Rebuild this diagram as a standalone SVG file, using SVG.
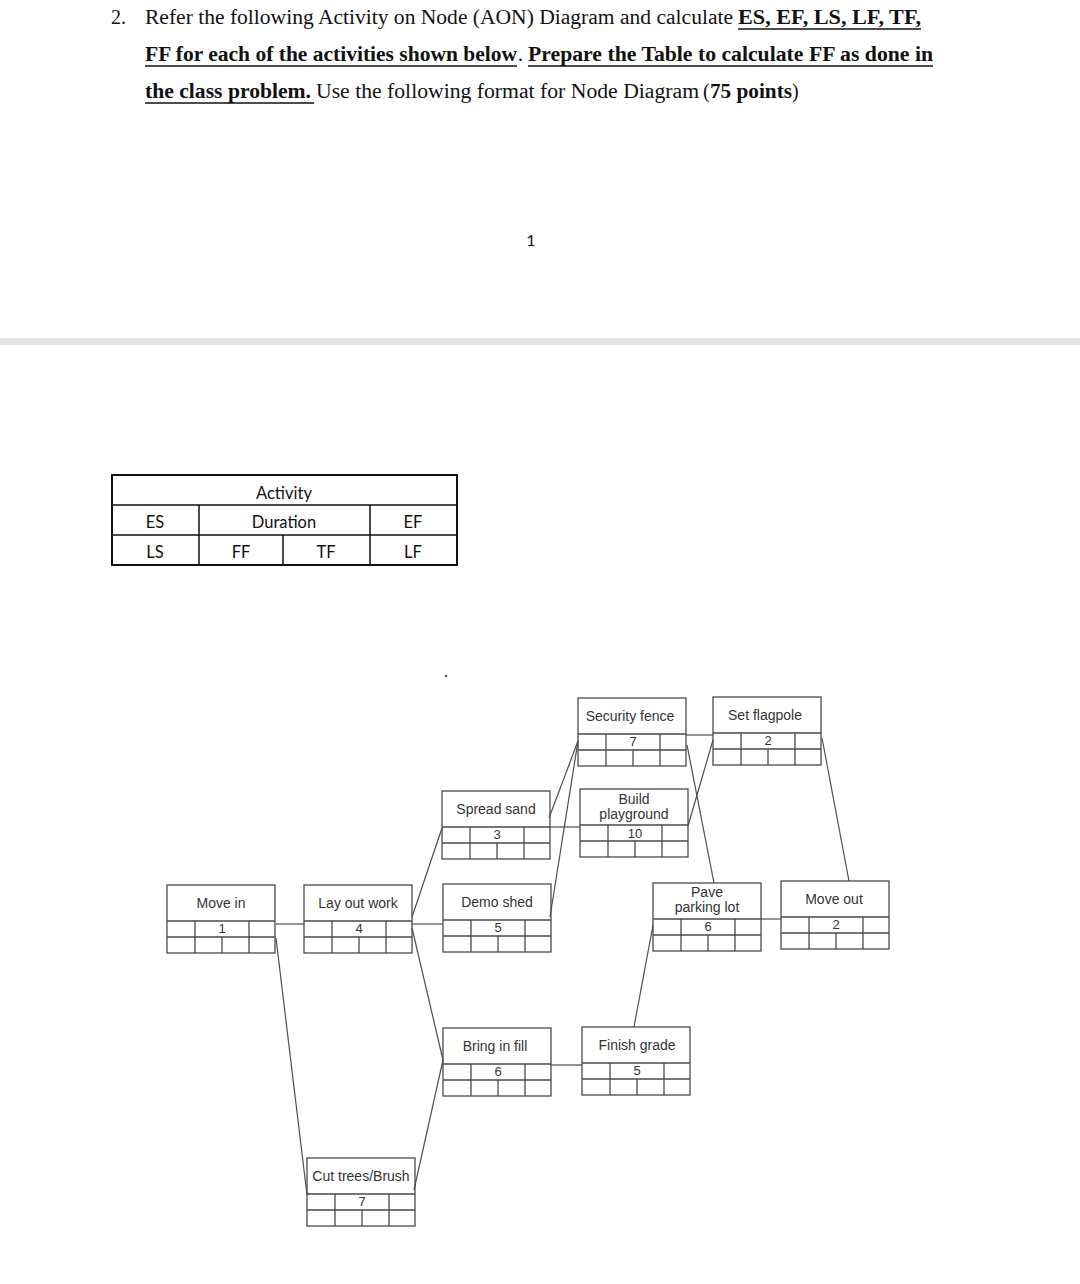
<svg xmlns="http://www.w3.org/2000/svg" xmlns:xlink="http://www.w3.org/1999/xlink" width="1080" height="1284" viewBox="0 0 1080 1284">
<style>
.hd{font-family:"Liberation Serif","Times New Roman",serif;font-size:20px;fill:#111}
.b{font-weight:bold}
.ul{stroke:#111;stroke-width:1.6}
.lg{font-family:Lato,"Open Sans",sans-serif;font-size:16.5px;fill:#111;text-anchor:middle}
.lgb{fill:none;stroke:#111;stroke-width:2}
.lgl{stroke:#111;stroke-width:1.5}
.nt{font-family:"Liberation Sans",Arial,sans-serif;font-size:14px;fill:#333;text-anchor:middle}
.nn{font-family:"Liberation Sans",Arial,sans-serif;font-size:13px;fill:#333;text-anchor:middle}
.fr{fill:none;stroke:#4a4a4a;stroke-width:1.3}
.cn{fill:none;stroke:#4e4e4e;stroke-width:1.2}
</style>
<defs>
<g id="frame">
<rect class="fr" x="0" y="0" width="108" height="68"/>
<path class="fr" d="M0,36H108M0,52H108M28,36V68M82,36V68M55,52V68"/>
</g>
</defs>
<rect x="0" y="0" width="1080" height="1284" fill="#ffffff"/>

<!-- header -->
<g id="header">
<text class="hd" x="111" y="24">2.</text>
<text class="hd" x="145" y="24" textLength="588" lengthAdjust="spacingAndGlyphs">Refer the following Activity on Node (AON) Diagram and calculate</text>
<text class="hd b" x="738" y="24" textLength="183" lengthAdjust="spacingAndGlyphs">ES, EF, LS, LF, TF,</text>
<line class="ul" x1="738" y1="29" x2="921" y2="29"/>
<text class="hd b" x="145" y="61" textLength="372" lengthAdjust="spacingAndGlyphs">FF for each of the activities shown below</text>
<line class="ul" x1="145" y1="66" x2="517" y2="66"/>
<text class="hd" x="518" y="61">.</text>
<text class="hd b" x="528" y="61" textLength="405" lengthAdjust="spacingAndGlyphs">Prepare the Table to calculate FF as done in</text>
<line class="ul" x1="528" y1="66" x2="933" y2="66"/>
<text class="hd b" x="145" y="98" textLength="166" lengthAdjust="spacingAndGlyphs">the class problem.</text>
<line class="ul" x1="145" y1="103" x2="314" y2="103"/>
<text class="hd" x="316" y="98" textLength="383" lengthAdjust="spacingAndGlyphs">Use the following format for Node Diagram</text>
<text class="hd" x="703" y="98">(</text>
<text class="hd b" x="710" y="98" textLength="82" lengthAdjust="spacingAndGlyphs">75 points</text>
<text class="hd" x="792" y="98">)</text>
<text x="531" y="246" font-family="Lato,'Open Sans',sans-serif" font-size="16" fill="#111" text-anchor="middle">1</text>
</g>

<rect x="0" y="338" width="1080" height="7" fill="#e3e3e3"/>

<!-- legend -->
<g id="legend">
<rect class="lgb" x="112" y="475" width="345" height="90"/>
<path class="lgl" d="M112,505H457M112,535H457M199,505V565M370,505V565M283,535V565"/>
<text class="lg" x="284" y="499">Activity</text>
<text class="lg" x="155" y="528">ES</text>
<text class="lg" x="284" y="528">Duration</text>
<text class="lg" x="413" y="528">EF</text>
<text class="lg" x="155" y="558">LS</text>
<text class="lg" x="241" y="558">FF</text>
<text class="lg" x="326" y="558">TF</text>
<text class="lg" x="413" y="558">LF</text>
</g>
<circle cx="446" cy="676" r="1.2" fill="#555"/>

<!-- connectors -->
<g id="connectors">
<path class="cn" d="M276,924L304,924"/>
<path class="cn" d="M276,938L307,1195"/>
<path class="cn" d="M412,917L442,828"/>
<path class="cn" d="M412,924L443,924"/>
<path class="cn" d="M412,928L443,1060"/>
<path class="cn" d="M414,1190L443,1060"/>
<path class="cn" d="M549,818L578,741"/>
<path class="cn" d="M549,827L580,827"/>
<path class="cn" d="M550,917L578,741"/>
<path class="cn" d="M686,735L713,735"/>
<path class="cn" d="M687,745L714,883"/>
<path class="cn" d="M688,826L713,740"/>
<path class="cn" d="M822,738L849,881"/>
<path class="cn" d="M761,919L781,919"/>
<path class="cn" d="M634,1027L653,925"/>
<path class="cn" d="M551,1065L582,1065"/>
</g>

<!-- nodes -->
<g id="move-in" transform="translate(167,885)">
<use xlink:href="#frame"/>
<text class="nt" x="54" y="23">Move in</text>
<text class="nn" x="55" y="48">1</text>
</g>
<g id="lay-out-work" transform="translate(304,885)">
<use xlink:href="#frame"/>
<text class="nt" x="54" y="23">Lay out work</text>
<text class="nn" x="55" y="48">4</text>
</g>
<g id="spread-sand" transform="translate(442,791)">
<use xlink:href="#frame"/>
<text class="nt" x="54" y="23">Spread sand</text>
<text class="nn" x="55" y="48">3</text>
</g>
<g id="demo-shed" transform="translate(443,884)">
<use xlink:href="#frame"/>
<text class="nt" x="54" y="23">Demo shed</text>
<text class="nn" x="55" y="48">5</text>
</g>
<g id="bring-in-fill" transform="translate(443,1028)">
<use xlink:href="#frame"/>
<text class="nt" x="52" y="23">Bring in fill</text>
<text class="nn" x="55" y="48">6</text>
</g>
<g id="cut-trees-brush" transform="translate(307,1158)">
<use xlink:href="#frame"/>
<text class="nt" x="54" y="23">Cut trees/Brush</text>
<text class="nn" x="55" y="48">7</text>
</g>
<g id="security-fence" transform="translate(578,698)">
<use xlink:href="#frame"/>
<text class="nt" x="52" y="23">Security fence</text>
<text class="nn" x="55" y="48">7</text>
</g>
<g id="build-playground" transform="translate(580,789)">
<use xlink:href="#frame"/>
<text class="nt" x="54" y="15">Build</text>
<text class="nt" x="54" y="30">playground</text>
<text class="nn" x="55" y="49">10</text>
</g>
<g id="pave-parking-lot" transform="translate(653,883)">
<use xlink:href="#frame"/>
<text class="nt" x="54" y="14">Pave</text>
<text class="nt" x="54" y="29">parking lot</text>
<text class="nn" x="55" y="48">6</text>
</g>
<g id="finish-grade" transform="translate(582,1027)">
<use xlink:href="#frame"/>
<text class="nt" x="55" y="23">Finish grade</text>
<text class="nn" x="55" y="48">5</text>
</g>
<g id="set-flagpole" transform="translate(713,697)">
<use xlink:href="#frame"/>
<text class="nt" x="52" y="23">Set flagpole</text>
<text class="nn" x="55" y="48">2</text>
</g>
<g id="move-out" transform="translate(781,881)">
<use xlink:href="#frame"/>
<text class="nt" x="53" y="23">Move out</text>
<text class="nn" x="55" y="48">2</text>
</g>
</svg>
